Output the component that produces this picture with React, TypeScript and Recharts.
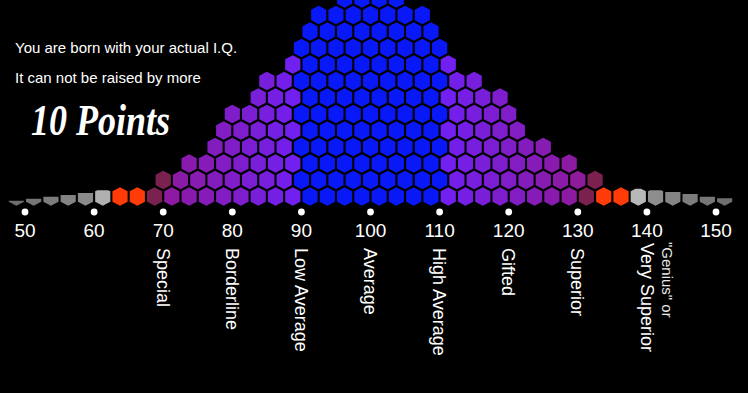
import React from 'react';
import { ScatterChart, Scatter, XAxis, YAxis } from 'recharts';

// IQ axis
const scoreTicks = [50, 60, 70, 80, 90, 100, 110, 120, 130, 140, 150];
const bandTicks = [70, 80, 90, 100, 110, 120, 130, 140];
const bandLabels = ['Special', 'Borderline', 'Low Average', 'Average', 'High Average', 'Gifted', 'Superior', 'Very Superior'];
const bandNote = '"Genius" or';

// hex stacks: columns standing on the bottom row
const baseColumnIQ = [68.75, 71.25, 73.75, 76.25, 78.75, 81.25, 83.75, 86.25, 88.75, 91.25, 93.75, 96.25, 98.75, 101.25, 103.75, 106.25, 108.75, 111.25, 113.75, 116.25, 118.75, 121.25, 123.75, 126.25, 128.75, 131.25];
const baseColumnCount = [1, 1, 2, 2, 3, 3, 4, 4, 5, 6, 6, 7, 7, 7, 7, 6, 6, 5, 4, 4, 4, 3, 2, 2, 2, 1];

// hex stacks: columns that start on the second row
const upperColumnIQ = [70, 72.5, 75, 77.5, 80, 82.5, 85, 87.5, 90, 92.5, 95, 97.5, 100, 102.5, 105, 107.5, 110, 112.5, 115, 117.5, 120, 122.5, 125, 127.5, 130, 132.5];
const upperColumnCount = [1, 1, 1, 2, 3, 3, 4, 4, 5, 6, 6, 6, 6, 6, 6, 6, 5, 4, 4, 3, 3, 2, 2, 1, 1, 1];

// bottom-row tails: how much of each hex shows
const tailIQ = [48.75, 51.25, 53.75, 56.25, 58.75, 61.25, 63.75, 66.25, 133.75, 136.25, 138.75, 141.25, 143.75, 146.25, 148.75, 151.25];
const tailShare = [0.27, 0.38, 0.48, 0.58, 0.69, 0.84, 1, 1, 1, 1, 0.92, 0.84, 0.74, 0.63, 0.48, 0.4];

const introLines = ['You are born with your actual I.Q.', 'It can not be raised by more'];
const headline = '10 Points';

const W = 748;
const H = 393;
const BLUE = '#0818f6';
const MAROON = '#7a2150';
const RED = '#ff3c08';
const tailFills = ['#6c706c', '#767676', '#7c7c7c', '#838383', '#8a8a8a', '#b0b0b0', RED, RED, RED, RED, '#b8b8b8', '#8d8d8d', '#848484', '#7c7c7c', '#767676', '#6f6f6f'];
const SANS = '"Liberation Sans", Arial, sans-serif';

const HW = 7.6;
const SIDE = 5.2;
const TIP = 9.3;

function stackColor(iq: number) {
  if (iq >= 90 && iq <= 110) return BLUE;
  if (iq <= 70 || iq >= 131) return MAROON;
  const t = (Math.abs(iq - 100) - 10) / 20;
  const mix = (a: number, b: number) => Math.round(a + (b - a) * t);
  return `rgb(${mix(112, 142)},${mix(32, 26)},${mix(244, 156)})`;
}

const stackCells = [
  ...baseColumnIQ.flatMap((iq, i) =>
    Array.from({ length: baseColumnCount[i] }, (_, k) => ({ iq, row: 2 * k, share: 1, fill: stackColor(iq) }))
  ),
  ...upperColumnIQ.flatMap((iq, i) =>
    Array.from({ length: upperColumnCount[i] }, (_, k) => ({ iq, row: 2 * k + 1, share: 1, fill: stackColor(iq) }))
  ),
];

const tailCells = tailIQ.map((iq, i) => ({ iq, row: 0, share: tailShare[i], fill: tailFills[i] }));

function clipBelow(pts: number[][], cut: number) {
  const out: number[][] = [];
  for (let i = 0; i < pts.length; i++) {
    const a = pts[i];
    const b = pts[(i + 1) % pts.length];
    const inA = a[1] >= cut;
    const inB = b[1] >= cut;
    if (inA) out.push(a);
    if (inA !== inB) {
      const t = (cut - a[1]) / (b[1] - a[1]);
      out.push([a[0] + t * (b[0] - a[0]), cut]);
    }
  }
  return out;
}

const HexShape = (props: any) => {
  const { cx, cy, payload } = props;
  if (cx == null || cy == null) return null;
  let pts = [
    [cx, cy - TIP],
    [cx + HW, cy - SIDE],
    [cx + HW, cy + SIDE],
    [cx, cy + TIP],
    [cx - HW, cy + SIDE],
    [cx - HW, cy - SIDE],
  ];
  if (payload.share < 1) pts = clipBelow(pts, cy + TIP - payload.share * 2 * TIP);
  return <polygon points={pts.map((p) => p.join(',')).join(' ')} fill={payload.fill} />;
};

const ScoreTick = (props: any) => {
  const { x, y, payload } = props;
  const v = payload.value;
  const bi = bandTicks.indexOf(v);
  const note = v === 140;
  return (
    <g>
      <circle cx={x} cy={y + 6} r={3.4} fill="#fff" />
      <text x={x} y={y + 31} textAnchor="middle" fill="#fff" fontSize={19} fontFamily={SANS}>
        {v}
      </text>
      {bi >= 0 && (
        <g transform={`translate(${x},${y + (note ? 37 : 42)}) rotate(90)`}>
          <text x={0} y={0} dy="0.35em" fill="#fff" fontSize={18} fontFamily={SANS}>
            {bandLabels[bi]}
          </text>
          {note && (
            <text x={-1} y={-15} fill="#e8e8e8" fontSize={15} fontFamily={SANS}>
              {bandNote}
            </text>
          )}
        </g>
      )}
    </g>
  );
};

export default function App() {
  return (
    <div style={{ position: 'fixed', left: 0, top: 0, width: W, height: H, background: '#000', overflow: 'hidden' }}>
      <ScatterChart width={W} height={H} margin={{ top: 0, right: 0, bottom: 0, left: 0 }}>
        <XAxis
          type="number"
          dataKey="iq"
          domain={[46.38, 154.63]}
          allowDataOverflow
          ticks={scoreTicks}
          interval={0}
          height={187}
          axisLine={false}
          tickLine={false}
          tickSize={0}
          tickMargin={0}
          tick={<ScoreTick />}
        />
        <YAxis type="number" dataKey="row" domain={[-0.5758, 11.909]} allowDataOverflow hide />
        <Scatter data={tailCells} shape={<HexShape />} isAnimationActive={false} />
        <Scatter data={stackCells} shape={<HexShape />} isAnimationActive={false} />
      </ScatterChart>
      <svg width={W} height={H} style={{ position: 'absolute', left: 0, top: 0, pointerEvents: 'none' }}>
        <text x={15} y={52.7} fill="#fff" fontSize={15} fontFamily={SANS}>
          {introLines[0]}
        </text>
        <text x={15} y={82.7} fill="#fff" fontSize={15} fontFamily={SANS}>
          {introLines[1]}
        </text>
        <text
          transform="translate(31,135) scale(0.8,1)"
          fill="#fff"
          fontSize={45}
          fontWeight="bold"
          fontStyle="italic"
          fontFamily='"Liberation Serif", "Times New Roman", serif'
        >
          {headline}
        </text>
      </svg>
    </div>
  );
}
